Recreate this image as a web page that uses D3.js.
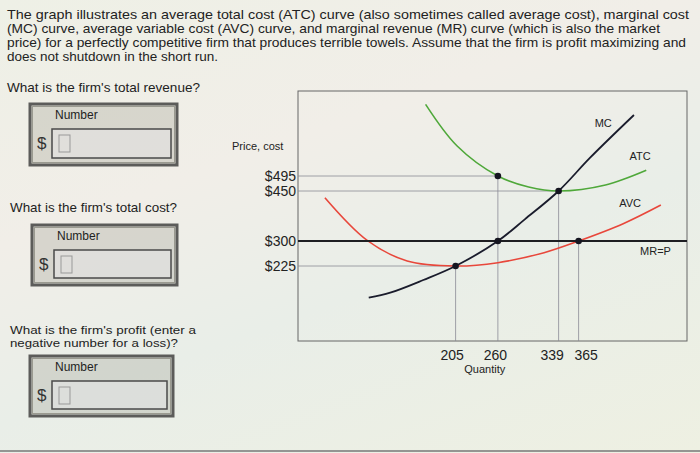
<!DOCTYPE html>
<html>
<head>
<meta charset="utf-8">
<script src="https://cdn.jsdelivr.net/npm/d3@7/dist/d3.min.js"></script>
<style>
  html, body { margin: 0; padding: 0; }
  body { width: 700px; height: 453px; overflow: hidden;
         background: linear-gradient(160deg, #eef0e6 0%, #f1eee8 35%, #e9eee8 60%, #eef0e2 100%); }
  svg { display: block; font-family: "Liberation Sans", Arial, sans-serif; }
</style>
</head>
<body>
<svg id="chart" width="700" height="453"></svg>
<script>
// ---------- data ----------
const introLines = [
  "The graph illustrates an average total cost (ATC) curve (also sometimes called average cost), marginal cost",
  "(MC) curve, average variable cost (AVC) curve, and marginal revenue (MR) curve (which is also the market",
  "price) for a perfectly competitive firm that produces terrible towels. Assume that the firm is profit maximizing and",
  "does not shutdown in the short run."
];
const introWidths = [682, 653, 679, 211];
const questions = [
  ["What is the firm's total revenue?"],
  ["What is the firm's total cost?"],
  ["What is the firm's profit (enter a", "negative number for a loss)?"]
];
const questionWidths = [[193], [167], [186, 168]];
const yTicks = [495, 450, 300, 225];
const xTicks = [205, 260, 339, 365];
const xTickNudge = [-4, -3, -7, 7];
const mcCurve  = [[92,130],[120,145],[163,183],[205,225],[260,300],[295,365],[339,450],[380,550],[437,678]];
const atcCurve = [[166,710],[207,585],[260,495],[300,462],[339,450],[400,468],[453,512]];
const avcCurve = [[35,430],[90,302],[142,240],[205,225],[260,235],[320,265],[365,300],[423,352],[472,408]];
const mrLine   = [[0,300],[506,300]];
const dots     = [[205,225],[260,300],[260,495],[339,450],[365,300]];
const vGuides  = [[205,225],[260,495],[339,450],[365,300]];
const hGuides  = [[205,225],[260,495],[339,450]];
const curveLabels = [["MC",397,642],["ATC",445,543],["AVC",432,402],["MR=P",465,258]];

// ---------- setup ----------
const svg = d3.select("#chart");
const ink = "#222";

// intro paragraph
introLines.forEach((t, i) => {
  svg.append("text").attr("x", 7).attr("y", 18.5 + i * 14.2)
    .attr("font-size", 12.6).attr("fill", ink)
    .attr("textLength", introWidths[i]).attr("lengthAdjust", "spacingAndGlyphs")
    .text(t);
});

// question blocks
const qLayout = [
  {ty: 92, box: [30, 104, 147, 61]},
  {ty: 212, box: [32, 225, 145, 60]},
  {ty: 334, box: [30, 356, 143, 60]}
];
questions.forEach((lines, qi) => {
  const L = qLayout[qi];
  lines.forEach((t, li) => {
    svg.append("text").attr("x", qi === 0 ? 7 : 10).attr("y", L.ty + li * 12.6)
      .attr("font-size", qi === 2 ? 11.2 : 13.2).attr("fill", ink)
      .attr("textLength", questionWidths[qi][li]).attr("lengthAdjust", "spacingAndGlyphs")
      .text(t);
  });
  const [bx, by, bw, bh] = L.box;
  const g = svg.append("g");
  g.append("rect").attr("x", bx).attr("y", by).attr("width", bw).attr("height", bh)
    .attr("fill", "rgba(140,140,125,0.25)").attr("stroke", "#5c5c5a").attr("stroke-width", 3);
  g.append("rect").attr("x", bx + 2.5).attr("y", by + 2.5).attr("width", bw - 5).attr("height", bh - 5)
    .attr("fill", "none").attr("stroke", "#9a9a90").attr("stroke-width", 1);
  g.append("text").attr("x", bx + 25).attr("y", by + 15).attr("font-size", 12).attr("fill", ink).text("Number");
  g.append("text").attr("x", bx + 7).attr("y", by + 45).attr("font-size", 17).attr("fill", "#333").text("$");
  g.append("rect").attr("x", bx + 22).attr("y", by + 25).attr("width", bw - 28).attr("height", bh - 32)
    .attr("fill", "rgba(240,240,245,0.35)").attr("stroke", "#4a4a4a").attr("stroke-width", 1.5);
  g.append("rect").attr("x", bx + 29).attr("y", by + 31).attr("width", 11).attr("height", 17)
    .attr("fill", "none").attr("stroke", "#999").attr("stroke-width", 1);
});

// bottom edge line
svg.append("line").attr("x1", 0).attr("x2", 700).attr("y1", 451).attr("y2", 451)
  .attr("stroke", "#777").attr("stroke-width", 1.5);

// ---------- chart ----------
const x = d3.scaleLinear().domain([0, 506]).range([298, 687]);
const y = d3.scaleLinear().domain([0, 750]).range([341, 91]);

// frame
svg.append("rect").attr("x", x(0)).attr("y", y(750))
  .attr("width", x(506) - x(0)).attr("height", y(0) - y(750))
  .attr("fill", "none").attr("stroke", "#666").attr("stroke-width", 1);

// axes (labels only)
const yAxis = d3.axisLeft(y).tickValues(yTicks).tickSize(0).tickPadding(2).tickFormat(d => "$" + d);
const gy = svg.append("g").attr("transform", `translate(${x(0)},0)`).call(yAxis);
gy.select(".domain").remove();
gy.selectAll("text").attr("font-size", 14).attr("fill", ink)
  .attr("font-family", "'Liberation Sans', Arial, sans-serif");

const xAxis = d3.axisBottom(x).tickValues(xTicks).tickSize(0).tickPadding(9);
const gx = svg.append("g").attr("transform", `translate(0,${y(0)})`).call(xAxis);
gx.select(".domain").remove();
gx.selectAll("text").attr("font-size", 14).attr("fill", ink)
  .attr("font-family", "'Liberation Sans', Arial, sans-serif")
  .attr("dx", (d, i) => xTickNudge[i]);

svg.append("text").attr("x", 232).attr("y", 150).attr("font-size", 11).attr("fill", ink).text("Price, cost");
svg.append("text").attr("x", x(243)).attr("y", 373).attr("text-anchor", "middle")
  .attr("font-size", 11).attr("fill", ink).text("Quantity");

// guides
svg.append("g").selectAll("line").data(vGuides).join("line")
  .attr("x1", d => x(d[0])).attr("x2", d => x(d[0]))
  .attr("y1", d => y(d[1])).attr("y2", y(0))
  .attr("stroke", "#8a8a95").attr("stroke-width", 0.8);
svg.append("g").selectAll("line").data(hGuides).join("line")
  .attr("x1", x(0)).attr("x2", d => x(d[0]))
  .attr("y1", d => y(d[1])).attr("y2", d => y(d[1]))
  .attr("stroke", "#8a8a95").attr("stroke-width", 0.8);

// curves
const line = d3.line().x(d => x(d[0])).y(d => y(d[1])).curve(d3.curveCatmullRom.alpha(0.5));
svg.append("path").datum(avcCurve).attr("d", line).attr("fill", "none")
  .attr("stroke", "#e8473b").attr("stroke-width", 1.6);
svg.append("path").datum(atcCurve).attr("d", line).attr("fill", "none")
  .attr("stroke", "#4fa83a").attr("stroke-width", 1.6);
svg.append("path").datum(mrLine).attr("d", d3.line().x(d => x(d[0])).y(d => y(d[1]))).attr("fill", "none")
  .attr("stroke", "#1e1e22").attr("stroke-width", 2);
svg.append("path").datum(mcCurve).attr("d", line).attr("fill", "none")
  .attr("stroke", "#1a1c2c").attr("stroke-width", 1.8);

// dots
svg.append("g").selectAll("circle").data(dots).join("circle")
  .attr("cx", d => x(d[0])).attr("cy", d => y(d[1])).attr("r", 3.3).attr("fill", "#151520");

// curve labels
svg.append("g").selectAll("text").data(curveLabels).join("text")
  .attr("x", d => x(d[1])).attr("y", d => y(d[2]))
  .attr("text-anchor", "middle").attr("font-size", 11).attr("fill", ink)
  .text(d => d[0]);
</script>
</body>
</html>
